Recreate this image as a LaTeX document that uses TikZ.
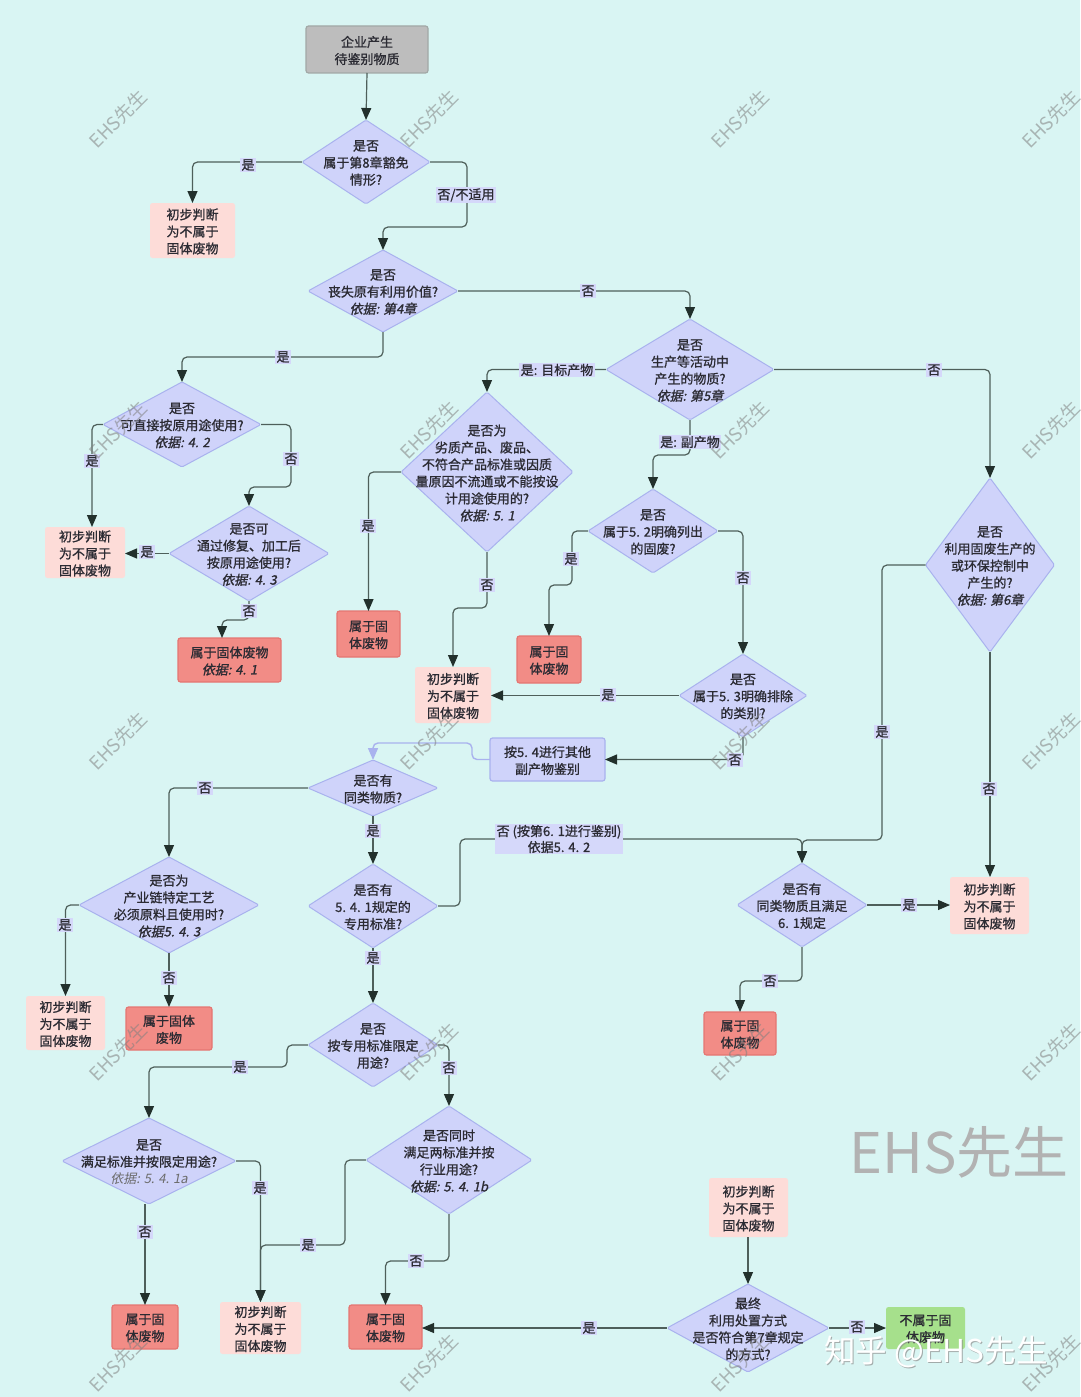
\documentclass[tikz,border=0pt]{standalone}
\usepackage{fontspec}
\setmainfont{Noto Sans CJK SC}[FakeBold=1.0]
\newfontfamily\plainfont{Noto Sans CJK SC}
\newfontfamily\slantfont{Noto Sans CJK SC}[FakeSlant=0.2,FakeBold=1.3]
\newfontfamily\slantlight{Noto Sans CJK SC}[FakeSlant=0.2]
\usetikzlibrary{shapes.geometric,arrows.meta}
\definecolor{bgc}{HTML}{D9F5F3}
\definecolor{lavf}{HTML}{CFD3FA}
\definecolor{lavd}{HTML}{A9B2EE}
\definecolor{pinkf}{HTML}{FDDCD8}
\definecolor{redf}{HTML}{F28C86}
\definecolor{redd}{HTML}{E57672}
\definecolor{grayf}{HTML}{BDBDBD}
\definecolor{grayd}{HTML}{A2A8A6}
\definecolor{greenf}{HTML}{A6E08C}
\definecolor{linec}{HTML}{4E5F5A}
\definecolor{tipc}{HTML}{22302C}
\definecolor{txtc}{HTML}{2B2B33}
\definecolor{labf}{HTML}{D5D8FA}
\tikzset{
  x=1pt,y=-1pt,
  txt/.style={align=center,inner sep=0pt,text=txtc,yshift=-1pt,font=\fontsize{13}{17}\selectfont},
  dia/.style={diamond,draw=lavd,fill=lavf,line width=1pt,inner sep=0pt,outer sep=0pt,rounded corners=1.5pt},
  boxbase/.style={inner sep=0pt,outer sep=0pt,rounded corners=2.5pt},
  grayb/.style={boxbase,fill=grayf,draw=grayd,line width=1.2pt},
  pinkb/.style={boxbase,fill=pinkf},
  redb/.style={boxbase,fill=redf,draw=redd,line width=1.2pt},
  lavb/.style={boxbase,fill=lavf,draw=lavd,line width=1.2pt},
  greenb/.style={boxbase,fill=greenf},
  conn/.style={draw=linec,line width=1.2pt,rounded corners=5pt,
    -{Triangle[length=12pt,width=10pt,color=tipc]}},
  connblue/.style={draw=lavd,line width=1.4pt,rounded corners=5pt,
    -{Triangle[length=12pt,width=10pt,color=lavd]}},
  lab/.style={fill=labf,inner sep=1.4pt,text=txtc,align=center,font=\fontsize{13}{16}\selectfont},
  wm/.style={rotate=45,text=gray,opacity=.55,font=\plainfont\fontsize{18.5}{20}\selectfont,inner sep=0pt},
}
\newcommand\dia[5]{\node[dia,minimum width=#3pt,minimum height=#4pt] (#1) at (#2) {};
  \node[txt] (#1t) at (#1) {#5};}
\newcommand\bx[6]{\node[#2,minimum width=#4pt,minimum height=#5pt] (#1) at (#3) {};
  \node[txt] (#1t) at (#1) {#6};}
\newcommand\yj[1]{{\slantfont #1}}
\begin{document}
\begin{tikzpicture}
\fill[bgc] (0,0) rectangle (1080,1397);
\useasboundingbox (0,0) rectangle (1080,1397);
% nodes
\bx{start}{grayb}{367,49.5}{122}{47}{企业产生\\待鉴别物质}
\dia{d1}{366,162}{128}{84}{是否\\属于第8章豁免\\情形?}
\bx{r1}{pinkb}{192.5,230.5}{85}{55}{初步判断\\为不属于\\固体废物}
\dia{d2}{383,291}{150}{82}{是否\\丧失原有利用价值?\\\yj{依据: 第4章}}
\dia{d3}{690,369.5}{168}{101}{是否\\生产等活动中\\产生的物质?\\\yj{依据: 第5章}}
\dia{d4}{182,424.5}{158}{85}{是否\\可直接按原用途使用?\\\yj{依据: 4. 2}}
\dia{d5}{249,553.5}{160}{95}{是否可\\通过修复、加工后\\按原用途使用?\\\yj{依据: 4. 3}}
\bx{r2}{pinkb}{85,552.5}{80}{51}{初步判断\\为不属于\\固体废物}
\bx{f1}{redb}{229.5,660}{103}{44}{属于固体废物\\\yj{依据: 4. 1}}
\dia{d6}{487,472}{172}{160}{是否为\\劣质产品、废品、\\不符合产品标准或因质\\量原因不流通或不能按设\\计用途使用的?\\\yj{依据: 5. 1}}
\bx{f2}{redb}{368.5,634}{63}{46}{属于固\\体废物}
\bx{r3}{pinkb}{453,695}{76}{56}{初步判断\\为不属于\\固体废物}
\dia{d7}{653,531}{130}{84}{是否\\属于5. 2明确列出\\的固废?}
\bx{f3}{redb}{549,659.5}{64}{47}{属于固\\体废物}
\dia{d8}{743,695.5}{128}{83}{是否\\属于5. 3明确排除\\的类别?}
\bx{b1}{lavb}{547.5,759.5}{115}{43}{按5. 4进行其他\\副产物鉴别}
\dia{d10}{373,788}{130}{56}{是否有\\同类物质?}
\dia{d11}{169,905}{180}{96}{是否为\\产业链特定工艺\\必须原料且使用时?\\\yj{依据5. 4. 3}}
\bx{r4}{pinkb}{65.5,1023}{79}{54}{初步判断\\为不属于\\固体废物}
\bx{f4}{redb}{169,1028.5}{86}{43}{属于固体\\废物}
\dia{d12}{373,906}{130}{84}{是否有\\5. 4. 1规定的\\专用标准?}
\dia{d13}{373,1045}{130}{84}{是否\\按专用标准限定\\用途?}
\dia{d14}{802,905}{130}{84}{是否有\\同类物质且满足\\6. 1规定}
\bx{f5}{redb}{740,1033.5}{72}{43}{属于固\\体废物}
\dia{d9}{990,565}{129}{174}{是否\\利用固废生产的\\或环保控制中\\产生的?\\\yj{依据: 第6章}}
\bx{r6}{pinkb}{989.5,905.5}{79}{57}{初步判断\\为不属于\\固体废物}
\dia{d15}{149,1161}{174}{86}{是否\\满足标准并按限定用途?\\{\slantlight\color{gray!85!black}依据: 5. 4. 1a}}
\dia{d16}{449,1160}{166}{108}{是否同时\\满足两标准并按\\行业用途?\\\yj{依据: 5. 4. 1b}}
\bx{f6}{redb}{145,1327}{66}{44}{属于固\\体废物}
\bx{r7}{pinkb}{260.5,1328}{81}{52}{初步判断\\为不属于\\固体废物}
\bx{f7}{redb}{385.5,1327}{73}{44}{属于固\\体废物}
\bx{r8}{pinkb}{748.5,1207.5}{79}{59}{初步判断\\为不属于\\固体废物}
\dia{d17}{748,1328}{162}{88}{最终\\利用处置方式\\是否符合第7章规定\\的方式?}
\bx{g1}{greenb}{925.5,1328}{79}{42}{不属于固\\体废物}
% connectors
\draw[conn] (start.south) -- (d1.north);
\draw[conn] (d1.west) -| (r1.north);
\draw[conn] (d1.east) -| (467,227) -| (d2.north);
\draw[conn] (d2.east) -| (d3.north);
\draw[conn] (d2.south) |- (280,357) -| (d4.north);
\draw[conn] (d3.west) -| (d6.north);
\draw[conn] (d3.south) |- (670,455) -| (d7.north);
\draw[conn] (d3.east) -| (d9.north);
\draw[conn] (d4.west) -| ([xshift=7pt]r2.north);
\draw[conn] (d4.east) -| (291,487) -| (d5.north);
\draw[conn] (d5.west) -- (d5.west -| r2.east);
\draw[conn] (d5.south) |- (235,620) -| ([xshift=-7.5pt]f1.north);
\draw[conn] (d6.west) -| (f2.north);
\draw[conn] (d6.south) |- (470,608) -| (r3.north);
\draw[conn] (d7.west) -| (572,585) -| (f3.north);
\draw[conn] (d7.east) -| (d8.north);
\draw[conn] (d8.west) -- (d8.west -| r3.east);
\draw[conn] (d8.south) |- (b1.east);
\draw[connblue] (b1.west) -| (472,743) -| (d10.north);
\draw[conn] (d10.west) -| (d11.north);
\draw[conn] (d10.south) -- (d12.north);
\draw[conn] (d11.west) -| (r4.north);
\draw[conn] (d11.south) -- (f4.north);
\draw[conn] (d12.east) -| (460,839) -| (d14.north);
\draw[conn] (d12.south) -- (d13.north);
\draw[conn] (d13.west) -| (287,1067) -| (d15.north);
\draw[conn] (d13.east) -| (d16.north);
\draw[conn] (d14.east) -- (d14.east -| r6.west);
\draw[conn] (d14.south) |- (770,981) -| (f5.north);
\draw[conn] (d9.west) -| (882,840) -| (d14.north);
\draw[conn] (d9.south) -- (d9.south |- r6.north);
\draw[conn] (d15.east) -| (r7.north);
\draw[conn] (f6.north |- d15.south) -- (f6.north);
\draw[conn] (d16.west) -| (345,1245) -| (r7.north);
\draw[conn] (d16.south) |- (416,1261) -| (f7.north);
\draw[conn] (d17.north |- r8.south) -- (d17.north);
\draw[conn] (d17.west) -- (d17.west -| f7.east);
\draw[conn] (d17.east) -- (d17.east -| g1.west);
% edge labels
\node[lab] (l1) at (248,165) {是};
\node[lab] (l2) at (466,195) {否/不适用};
\node[lab] (l3) at (588,291) {否};
\node[lab] (l4) at (283,357) {是};
\node[lab] (l5) at (557,370) {是: 目标产物};
\node[lab] (l6) at (690,442) {是: 副产物};
\node[lab] (l7) at (934,370) {否};
\node[lab] (l8) at (92,461) {是};
\node[lab] (l9) at (291,459) {否};
\node[lab] (l10) at (147,552) {是};
\node[lab] (l11) at (249,611) {否};
\node[lab] (l12) at (368,526) {是};
\node[lab] (l13) at (487,585) {否};
\node[lab] (l14) at (571,559) {是};
\node[lab] (l15) at (743,578) {否};
\node[lab] (l16) at (608,695) {是};
\node[lab] (l17) at (735,760) {否};
\node[lab] (l18) at (205,788) {否};
\node[lab] (l19) at (373,831) {是};
\node[lab] (l20) at (65,925) {是};
\node[lab] (l21) at (169,978) {否};
\node[lab] (l22) at (559,839) {否 (按第6. 1进行鉴别)\\依据5. 4. 2};
\node[lab] (l23) at (373,958) {是};
\node[lab] (l24) at (240,1067) {是};
\node[lab] (l25) at (449,1068) {否};
\node[lab] (l26) at (909,905) {是};
\node[lab] (l27) at (770,981) {否};
\node[lab] (l28) at (882,732) {是};
\node[lab] (l29) at (989,789) {否};
\node[lab] (l30) at (260,1188) {是};
\node[lab] (l31) at (145,1232) {否};
\node[lab] (l32) at (308,1245) {是};
\node[lab] (l33) at (416,1261) {否};
\node[lab] (l34) at (589,1328) {是};
\node[lab] (l35) at (857,1327) {否};
% watermarks
\foreach \wx in {118,429,740,1051}{
  \foreach \wy in {119,430,741,1052,1363}{
    \node[wm] at (\wx,\wy) {EHS先生};
  }
}
\node[text=black!30,font=\plainfont\fontsize{56}{58}\selectfont,inner sep=0pt] (bigmark) at (959,1152) {EHS先生};
\node[text=black!45,opacity=.7,font=\plainfont\fontsize{31.5}{33}\selectfont,inner sep=0pt] (zhshadow) at (937,1353) {知乎 @EHS先生};
\node[text=white,font=\plainfont\fontsize{31.5}{33}\selectfont,inner sep=0pt] (zhmark) at (936,1352) {知乎 @EHS先生};
\end{tikzpicture}
\end{document}
